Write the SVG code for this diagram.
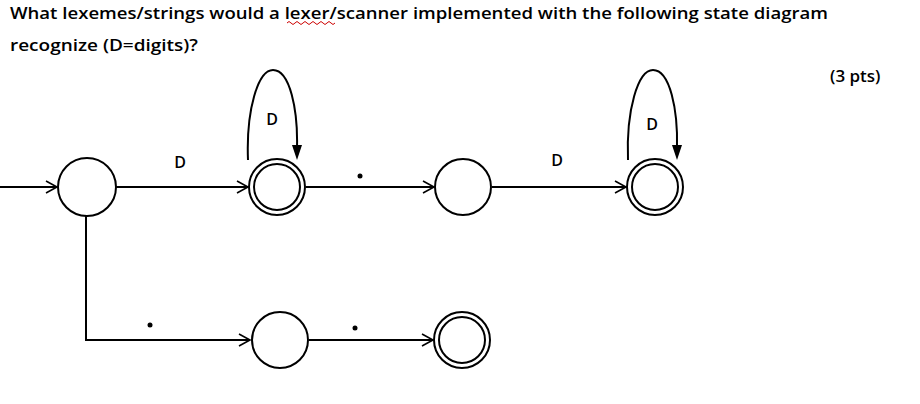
<svg xmlns="http://www.w3.org/2000/svg" width="920" height="404" viewBox="0 0 920 404">
<style>
.t{font-family:"Open Sans","Liberation Sans",sans-serif;font-size:17px;font-weight:600;fill:#000}
.l{font-family:"Open Sans","Liberation Sans",sans-serif;font-size:16px;font-weight:600;fill:#000}
.c{fill:#fff;stroke:#000;stroke-width:2}
.e{fill:none;stroke:#000;stroke-width:2}
</style>
<defs>
<marker id="o" markerWidth="14" markerHeight="14" refX="12" refY="7" orient="auto" markerUnits="userSpaceOnUse"><path d="M1,1 L12,7 L1,13" fill="none" stroke="#000" stroke-width="1.6"/></marker>
</defs>
<rect width="920" height="404" fill="#fff"/>
<text class="t" x="10" y="19" textLength="818" lengthAdjust="spacingAndGlyphs">What lexemes/strings would a lexer/scanner implemented with the following state diagram</text>
<text class="t" x="10" y="51" textLength="188" lengthAdjust="spacingAndGlyphs">recognize (D=digits)?</text>
<path d="M287,23 q2,-3 4,0 q2,3 4,0 q2,-3 4,0 q2,3 4,0 q2,-3 4,0 q2,3 4,0 q2,-3 4,0 q2,3 4,0 q2,-3 4,0 q2,3 4,0 q2,-3 4,0 q2,3 4,0" fill="none" stroke="#c00" stroke-width="1"/>
<text class="t" x="830" y="82">(3 pts)</text>
<g id="connectors">
<line class="e" x1="0" y1="187" x2="57" y2="187" marker-end="url(#o)"/>
<line class="e" x1="116" y1="187" x2="248" y2="187" marker-end="url(#o)"/>
<line class="e" x1="306" y1="187" x2="434" y2="187" marker-end="url(#o)"/>
<line class="e" x1="492" y1="187" x2="626" y2="187" marker-end="url(#o)"/>
<polyline class="e" points="86,216 86,340 250,340" marker-end="url(#o)"/>
<line class="e" x1="309" y1="340" x2="433" y2="340" marker-end="url(#o)"/>
<path class="e" d="M248,160 C246,110 258,70 273,70 C290,70 298,110 297,148"/>
<path d="M292,145 L297,160 L302,145 Z" fill="#000"/>
<path class="e" d="M628,160 C626,110 638,70 653,70 C670,70 678,110 677,148"/>
<path d="M672,145 L677,160 L682,145 Z" fill="#000"/>
</g>
<g id="labels">
<text class="l" x="180" y="168" text-anchor="middle">D</text>
<text class="l" x="272" y="125" text-anchor="middle">D</text>
<circle cx="360" cy="176" r="2.5" fill="#000"/>
<text class="l" x="557" y="166" text-anchor="middle">D</text>
<text class="l" x="652" y="130" text-anchor="middle">D</text>
<circle cx="150" cy="325" r="2.5" fill="#000"/>
<circle cx="355" cy="328" r="2.5" fill="#000"/>
</g>
<g id="s0"><circle class="c" cx="87" cy="187" r="29"/></g>
<g id="s1"><circle class="c" cx="277" cy="187" r="28"/><circle class="c" cx="277" cy="187" r="23"/></g>
<g id="s2"><circle class="c" cx="463" cy="187" r="28"/></g>
<g id="s3"><circle class="c" cx="655" cy="187" r="28"/><circle class="c" cx="655" cy="187" r="23"/></g>
<g id="s4"><circle class="c" cx="280" cy="340" r="28"/></g>
<g id="s5"><circle class="c" cx="462" cy="340" r="28"/><circle class="c" cx="462" cy="340" r="23"/></g>
</svg>
